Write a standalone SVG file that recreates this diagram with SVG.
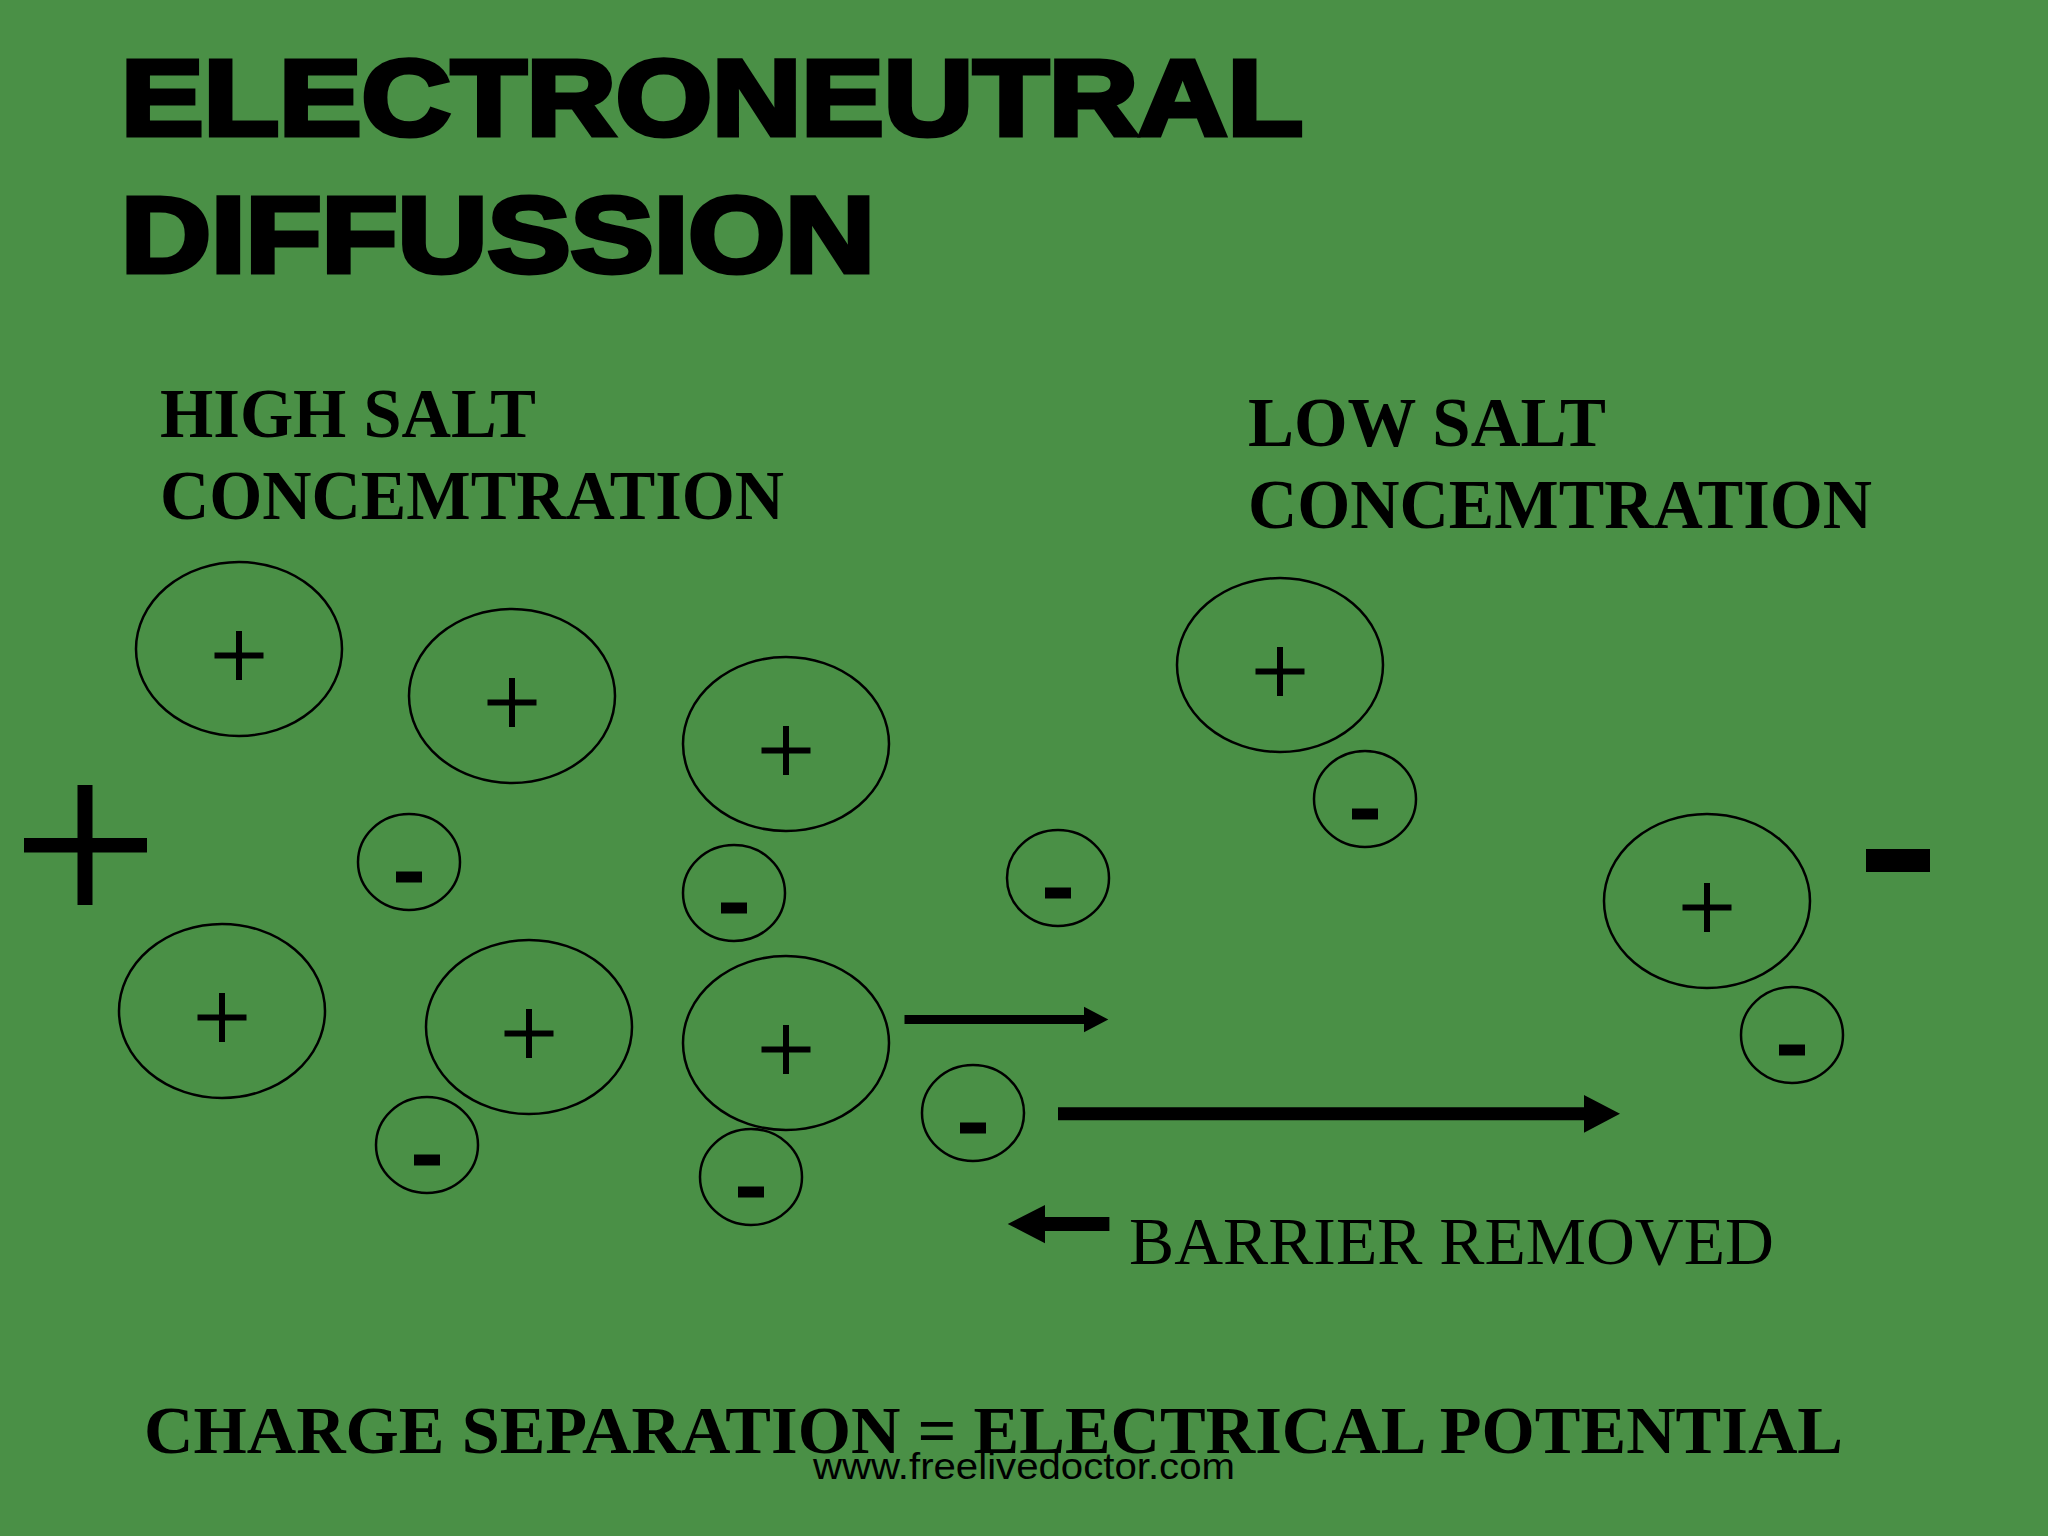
<svg xmlns="http://www.w3.org/2000/svg" width="2048" height="1536" viewBox="0 0 2048 1536">
<defs>
<style>
.bg{fill:#4a9046}
.title{font-family:"Liberation Sans",Arial,sans-serif;font-weight:bold;font-size:108px;fill:#000;stroke:#000;stroke-width:5;stroke-linejoin:miter}
.sub{font-family:"Liberation Serif","Times New Roman",serif;font-weight:bold;font-size:69px;fill:#000}
.reg{font-family:"Liberation Serif","Times New Roman",serif;font-size:68px;fill:#000}
.web{font-family:"Liberation Sans",Arial,sans-serif;font-size:37px;fill:#000}
.ion{fill:none;stroke:#000;stroke-width:2.5}
.plus{stroke:#000;stroke-width:6;fill:none}
.arr{fill:#000}
</style>
<g id="cation"><ellipse class="ion" cx="0" cy="0" rx="103" ry="87"/><path class="plus" d="M-24.5,6.5H24.5M0,-18V31"/></g>
<g id="anion"><ellipse class="ion" cx="0" cy="0" rx="51" ry="48"/><rect x="-13" y="9.5" width="26" height="11" fill="#000"/></g>
</defs>
<rect class="bg" x="0" y="0" width="2048" height="1536"/>
<g id="title">
<text class="title" x="121" y="135" textLength="1182" lengthAdjust="spacingAndGlyphs">ELECTRONEUTRAL</text>
<text class="title" x="121" y="272" textLength="754" lengthAdjust="spacingAndGlyphs">DIFFUSSION</text>
</g>
<g id="high-label">
<text class="sub" x="160" y="437" textLength="376" lengthAdjust="spacingAndGlyphs">HIGH SALT</text>
<text class="sub" x="160" y="519" textLength="624" lengthAdjust="spacingAndGlyphs">CONCEMTRATION</text>
</g>
<g id="low-label">
<text class="sub" x="1248" y="446" textLength="358" lengthAdjust="spacingAndGlyphs">LOW SALT</text>
<text class="sub" x="1248" y="528" textLength="624" lengthAdjust="spacingAndGlyphs">CONCEMTRATION</text>
</g>
<g id="pole-plus"><rect x="24" y="838" width="123" height="14.5" fill="#000"/><rect x="77.5" y="785" width="15" height="120" fill="#000"/></g>
<g id="pole-minus"><rect x="1866" y="849" width="64" height="23" fill="#000"/></g>
<g id="p1"><use href="#cation" x="239" y="649"/></g>
<g id="p2"><use href="#cation" x="512" y="696"/></g>
<g id="p3"><use href="#cation" x="786" y="744"/></g>
<g id="p4"><use href="#cation" x="222" y="1011"/></g>
<g id="p5"><use href="#cation" x="529" y="1027"/></g>
<g id="p6"><use href="#cation" x="786" y="1043"/></g>
<g id="p7"><use href="#cation" x="1280" y="665"/></g>
<g id="p8"><use href="#cation" x="1707" y="901"/></g>
<g id="m1"><use href="#anion" x="409" y="862"/></g>
<g id="m2"><use href="#anion" x="734" y="893"/></g>
<g id="m3"><use href="#anion" x="427" y="1145"/></g>
<g id="m4"><use href="#anion" x="751" y="1177"/></g>
<g id="m5"><use href="#anion" x="1058" y="878"/></g>
<g id="m6"><use href="#anion" x="973" y="1113"/></g>
<g id="m7"><use href="#anion" x="1365" y="799"/></g>
<g id="m8"><use href="#anion" x="1792" y="1035"/></g>
<g id="connectors">
<polygon class="arr" points="904.5,1015 1084,1015 1084,1006.7 1108.3,1019.5 1084,1032.3 1084,1024 904.5,1024"/>
<polygon class="arr" points="1058,1107.3 1584,1107.3 1584,1095 1620,1113.7 1584,1132.7 1584,1120.3 1058,1120.3"/>
<polygon class="arr" points="1109.4,1217 1045,1217 1045,1205 1007.7,1224 1045,1243.3 1045,1231 1109.4,1231"/>
</g>
<g id="barrier-label"><text class="reg" x="1129" y="1264" textLength="645" lengthAdjust="spacingAndGlyphs">BARRIER REMOVED</text></g>
<g id="conclusion"><text class="sub" style="font-size:68px" x="144" y="1453" textLength="1699" lengthAdjust="spacingAndGlyphs">CHARGE SEPARATION = ELECTRICAL POTENTIAL</text></g>
<g id="watermark"><text class="web" x="813" y="1479" textLength="422" lengthAdjust="spacingAndGlyphs">www.freelivedoctor.com</text></g>
</svg>
